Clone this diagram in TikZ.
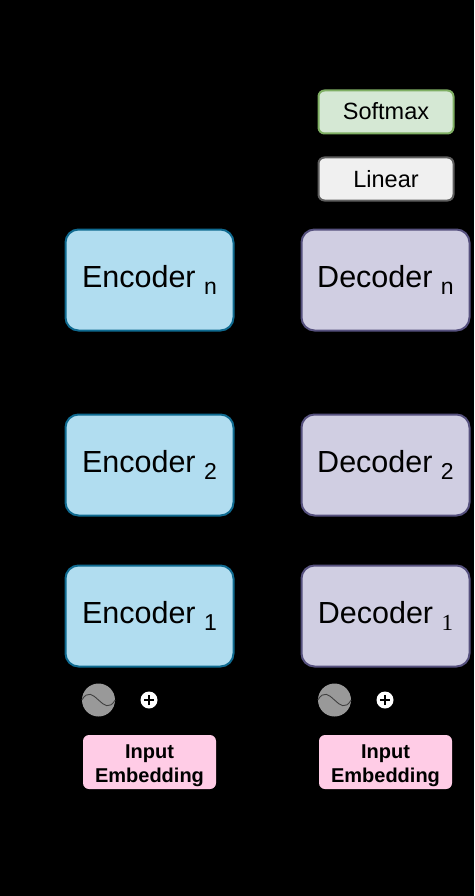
\documentclass[tikz,border=0pt]{standalone}
\usepackage{fontspec}
\setmainfont{Liberation Sans}
\newfontfamily\serifsub{Liberation Serif}
\newcommand{\fsz}[1]{\fontsize{#1pt}{#1pt}\selectfont}
\newcommand{\lowsub}[1]{\raisebox{-7pt}{\fsz{23}#1}}
\definecolor{encfill}{HTML}{B1DDF0}
\definecolor{encline}{HTML}{0F6A90}
\definecolor{decfill}{HTML}{D0CEE2}
\definecolor{decline}{HTML}{56517E}
\definecolor{softfill}{HTML}{D5E8D4}
\definecolor{softline}{HTML}{7FAF63}
\definecolor{linfill}{HTML}{F0F0F0}
\definecolor{linline}{HTML}{5F5F5F}
\definecolor{pinkfill}{HTML}{FFCCE6}
\tikzset{
  x=1pt,y=-1pt,
  stack/.style={rounded corners=13pt,line width=2pt,minimum width=168pt,minimum height=101pt,inner sep=0pt,
    text=black,font=\fsz{30.5},text height=15pt,text depth=0pt,align=center},
  encbox/.style={stack,draw=encline,fill=encfill},
  decbox/.style={stack,draw=decline,fill=decfill},
  small/.style={rounded corners=6pt,line width=2pt,minimum width=135pt,minimum height=43pt,inner sep=0pt,
    text=black,font=\fsz{23.5},text height=16pt,text depth=0pt},
  softbox/.style={small,draw=softline,fill=softfill},
  linbox/.style={small,draw=linline,fill=linfill},
  embbox/.style={rounded corners=6pt,fill=pinkfill,minimum width=133pt,minimum height=54pt,inner sep=0pt,
    text=black,font=\fsz{20}\bfseries,align=center},
  posdisc/.style={circle,fill=gray!80,minimum size=33pt,inner sep=0pt},
  sumdisc/.style={circle,fill=white,minimum size=17pt,inner sep=0pt},
  wave/.style={line width=0.9pt,black!75},
  cross/.style={line width=2.2pt,black},
}
\begin{document}
\begin{tikzpicture}
\useasboundingbox[fill=black] (0,0) rectangle (474,896);
\node[softbox] (softmax) at (386,112) {Softmax};
\node[linbox] (linear) at (386,179) {Linear};
\node[encbox] (encn) at (149.5,280) {Encoder \lowsub{n}};
\node[encbox] (enc2) at (149.5,465) {Encoder \lowsub{2}};
\node[encbox] (enc1) at (149.5,616) {Encoder \lowsub{1}};
\node[decbox] (decn) at (385.5,280) {Decoder \lowsub{n}};
\node[decbox] (dec2) at (385.5,465) {Decoder \lowsub{2}};
\node[decbox] (dec1) at (385.5,616) {Decoder \lowsub{\serifsub 1}};
\foreach \n/\cx/\sx/\ex in {a/98.5/149/149.5,b/334.5/385/385.5}{
  \node[posdisc] (pos\n) at (\cx,700) {};
  \draw[wave] (pos\n.west) .. controls ([xshift=12pt,yshift=20pt]pos\n.west) and ([xshift=-12pt,yshift=-20pt]pos\n.east) .. (pos\n.east);
  \node[sumdisc] (sum\n) at (\sx,700) {};
  \draw[cross] ([xshift=-5pt]sum\n.center) -- ([xshift=5pt]sum\n.center);
  \draw[cross] ([yshift=-5pt]sum\n.center) -- ([yshift=5pt]sum\n.center);
  \node[embbox] (emb\n) at (\ex,762) {\rule{0pt}{20.5pt}Input\\[4pt]Embedding};
}
\end{tikzpicture}
\end{document}
